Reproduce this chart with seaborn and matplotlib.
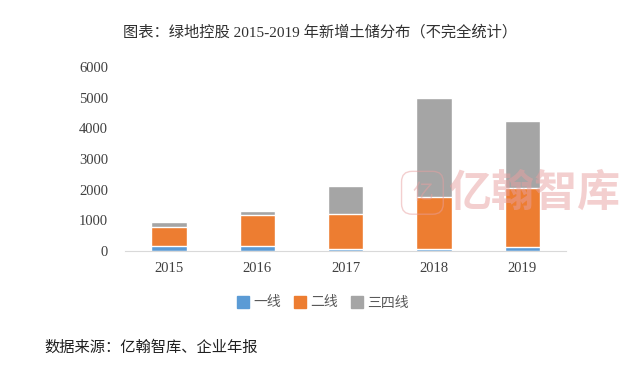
import pandas as pd
import numpy as np
import matplotlib
matplotlib.use('Agg')
import matplotlib.pyplot as plt
import seaborn as sns
from matplotlib.lines import Line2D

years = ['2015', '2016', '2017', '2018', '2019']
tier1 = [170, 170, 75, 65, 140]
tier2 = [620, 990, 1120, 1705, 1925]
tier34 = [170, 140, 925, 3220, 2165]

series = ['一线', '二线', '三四线']
colors = ['#5B9BD5', '#ED7D31', '#A5A5A5']

df = pd.DataFrame({'year': years, '一线': tier1, '二线': tier2, '三四线': tier34})
# cumulative heights for stacking
df['c1'] = df['一线']
df['c2'] = df['c1'] + df['二线']
df['c3'] = df['c2'] + df['三四线']

sns.set_style('white')
plt.rcParams['font.family'] = ['Liberation Serif', 'Noto Sans CJK SC', 'DejaVu Sans']

fig = plt.figure(figsize=(6.4, 3.78), dpi=100)
ax = fig.add_axes([0.195, 0.336, 0.69, 0.487])

for col, c in zip(['c3', 'c2', 'c1'], colors[::-1]):
    sns.barplot(data=df, x='year', y=col, color=c, width=0.4, saturation=1, ax=ax)

ax.set_ylim(0, 6000)
ax.set_yticks(range(0, 6001, 1000))
ax.set_xlabel('')
ax.set_ylabel('')
for s in ['left', 'right', 'top']:
    ax.spines[s].set_visible(False)
ax.spines['bottom'].set_color('#D9D9D9')
ax.tick_params(axis='both', length=0, labelsize=10.5, colors='#404040')
ax.tick_params(axis='x', pad=8)
ax.tick_params(axis='y', pad=12)

# watermark
fig.text(0.66, 0.49, '亿', fontsize=15, color='#E8A0A0', alpha=0.5,
         family=['Noto Sans CJK SC'], ha='center', va='center',
         bbox=dict(boxstyle='round,pad=0.5', fc='none', ec='#E8A0A0', alpha=0.5))
fig.text(0.70, 0.49, '亿翰智库', fontsize=31, color='#E8A0A0', alpha=0.5,
         family=['Noto Sans CJK SC'], fontweight='bold', ha='left', va='center')

fig.text(0.5, 0.915, '图表：绿地控股 2015-2019 年新增土储分布（不完全统计）',
         ha='center', va='center', fontsize=11, color='#303030',
         family=['Liberation Serif', 'Noto Sans CJK SC'])

handles = [Line2D([], [], marker='s', linestyle='', markersize=8, color=c, label=l)
           for c, l in zip(colors, series)]
fig.legend(handles=handles, loc='center', bbox_to_anchor=(0.505, 0.2), ncol=3,
           frameon=False, handlelength=0.8, handletextpad=0.3, columnspacing=1.0,
           labelcolor='#595959', prop={'family': ['Noto Sans CJK SC'], 'size': 10})

fig.text(0.07, 0.08, '数据来源：亿翰智库、企业年报', ha='left', va='center',
         fontsize=11, color='#202020', family=['Noto Sans CJK SC'])

fig.savefig('out.png', dpi=100, facecolor='white')
